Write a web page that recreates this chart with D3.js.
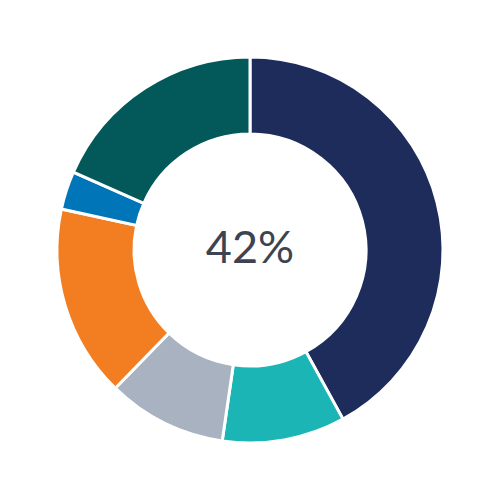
<!DOCTYPE html>
<html>
<head>
<meta charset="utf-8">
<script src="https://cdn.jsdelivr.net/npm/d3@7"></script>
<style>
  body { margin: 0; background: #fff; }
</style>
</head>
<body>
<svg></svg>
<script>
let labels = ['A', 'B', 'C', 'D', 'E', 'F'];
let values = [42, 10.3, 10, 16.1, 3.2, 18.4];
let colors = ['#1e2c5c', '#1bb5b6', '#a8b2c0', '#f37e22', '#0076b9', '#03585a'];
let centerLabel = '42%';

let width = 500;
let height = 500;
let outerR = 193;
let innerR = 116;

let svg = d3.select('svg')
            .attr('width', width)
            .attr('height', height);

let g = svg.append('g')
           .attr('transform', `translate(${width / 2}, ${height / 2})`);

let pie = d3.pie().sort(null).value(d => d);
let arc = d3.arc().innerRadius(innerR).outerRadius(outerR);

g.selectAll('path')
 .data(pie(values))
 .enter()
 .append('path')
 .attr('d', arc)
 .attr('fill', (d, i) => colors[i])
 .attr('stroke', '#fff')
 .attr('stroke-width', 3);

g.append('text')
 .attr('text-anchor', 'middle')
 .attr('y', 13)
 .attr('font-family', 'Lato, sans-serif')
 .attr('font-size', 45)
 .attr('fill', '#3d4350')
 .text(centerLabel);
</script>
</body>
</html>
